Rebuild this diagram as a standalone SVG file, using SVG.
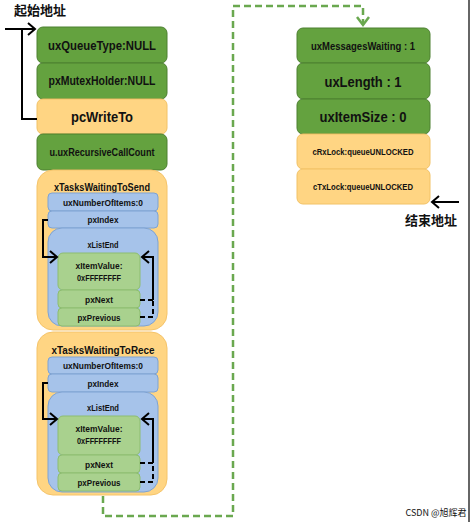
<svg xmlns="http://www.w3.org/2000/svg" width="474" height="522" viewBox="0 0 474 522">
<style>
.g{fill:#64a23f;stroke:#4c8030;stroke-width:1}
.o{fill:#ffd583;stroke:#f2c266;stroke-width:1}
.ob{fill:#ffd583;stroke:#f5c46a;stroke-width:1}
.b{fill:#a6c3ea;stroke:#7ea3d3;stroke-width:1}
.lg{fill:#a9d18e;stroke:#8dbd70;stroke-width:1}
text{font-family:"Liberation Sans",Arial,sans-serif;font-weight:bold;text-anchor:middle;fill:#111}
.cn{font-family:"Noto Sans CJK SC","Liberation Sans",sans-serif;font-weight:bold;text-anchor:start}
.ln{fill:none;stroke:#000;stroke-width:2}
.dl{fill:none;stroke:#000;stroke-width:2;stroke-dasharray:5,3}
.gd{fill:none;stroke:#6aa84f;stroke-width:2.5;stroke-dasharray:7,4}
</style>
<defs>
<marker id="ah" markerUnits="userSpaceOnUse" markerWidth="12" markerHeight="14" refX="9" refY="7" orient="auto">
<path d="M2,1 L9,7 L2,13" fill="none" stroke="#000" stroke-width="2"/>
</marker>
<marker id="gah" markerUnits="userSpaceOnUse" markerWidth="14" markerHeight="14" refX="10" refY="7" orient="auto">
<path d="M2,1 L10,7 L2,13" fill="none" stroke="#6aa84f" stroke-width="2.5"/>
</marker>
</defs>
<rect width="474" height="522" fill="#fff"/>
<line x1="469" y1="0" x2="469" y2="522" stroke="#333" stroke-width="1.5"/>

<text class="cn" x="14" y="15" font-size="13">起始地址</text>
<text class="cn" x="405" y="225" font-size="13">结束地址</text>

<g id="uxQueueType"><rect class="g" x="37" y="27" width="130" height="36" rx="6"/><text x="102" y="49.5" font-size="12.5" textLength="108" lengthAdjust="spacingAndGlyphs">uxQueueType:NULL</text></g>
<g id="pxMutexHolder"><rect class="g" x="37" y="63" width="130" height="36" rx="6"/><text x="102" y="85" font-size="12" textLength="107" lengthAdjust="spacingAndGlyphs">pxMutexHolder:NULL</text></g>
<g id="pcWriteTo"><rect class="o" x="37" y="99" width="130" height="35" rx="6"/><text x="102" y="121.5" font-size="14.5" textLength="62" lengthAdjust="spacingAndGlyphs">pcWriteTo</text></g>
<g id="uxRecursiveCallCount"><rect class="g" x="37" y="134" width="130" height="36" rx="6"/><text x="102" y="156" font-size="10.5" textLength="105" lengthAdjust="spacingAndGlyphs">u.uxRecursiveCallCount</text></g>

<g id="xTasksWaitingToSend">
<rect class="ob" x="37" y="170" width="130" height="160" rx="16"/>
<text x="102" y="191" font-size="11" textLength="96" lengthAdjust="spacingAndGlyphs">xTasksWaitingToSend</text>
<rect class="b" x="48" y="193" width="110" height="18" rx="4"/>
<text x="103" y="205.5" font-size="9.5" textLength="80" lengthAdjust="spacingAndGlyphs">uxNumberOfItems:0</text>
<rect class="b" x="48" y="211" width="110" height="17" rx="4"/>
<text x="103" y="223" font-size="9.5" textLength="31" lengthAdjust="spacingAndGlyphs">pxIndex</text>
<rect class="b" x="48" y="228" width="110" height="98" rx="14"/>
<text x="103" y="247.5" font-size="9.5" textLength="31" lengthAdjust="spacingAndGlyphs">xListEnd</text>
<rect class="lg" x="58" y="253" width="82" height="37" rx="5"/>
<text x="99" y="269" font-size="9.5" textLength="47" lengthAdjust="spacingAndGlyphs">xItemValue:</text>
<text x="99" y="281" font-size="9" textLength="44" lengthAdjust="spacingAndGlyphs">0xFFFFFFFF</text>
<rect class="lg" x="58" y="290" width="82" height="18" rx="4"/>
<text x="99" y="303" font-size="9.5" textLength="28" lengthAdjust="spacingAndGlyphs">pxNext</text>
<rect class="lg" x="58" y="308" width="82" height="18" rx="4"/>
<text x="99" y="320.5" font-size="9.5" textLength="43" lengthAdjust="spacingAndGlyphs">pxPrevious</text>
</g>

<g id="xTasksWaitingToRece">
<rect class="ob" x="37" y="332" width="130" height="163" rx="16"/>
<text x="103" y="354" font-size="11.5" textLength="103" lengthAdjust="spacingAndGlyphs">xTasksWaitingToRece</text>
<rect class="b" x="48" y="357" width="110" height="17" rx="4"/>
<text x="103" y="369" font-size="9.5" textLength="80" lengthAdjust="spacingAndGlyphs">uxNumberOfItems:0</text>
<rect class="b" x="48" y="374" width="110" height="18" rx="4"/>
<text x="103" y="386.5" font-size="9.5" textLength="31" lengthAdjust="spacingAndGlyphs">pxIndex</text>
<rect class="b" x="48" y="392" width="110" height="100" rx="14"/>
<text x="103" y="410.5" font-size="9.5" textLength="32" lengthAdjust="spacingAndGlyphs">xListEnd</text>
<rect class="lg" x="58" y="416" width="82" height="39" rx="5"/>
<text x="99" y="431.5" font-size="9.5" textLength="47" lengthAdjust="spacingAndGlyphs">xItemValue:</text>
<text x="99" y="443.5" font-size="9" textLength="44" lengthAdjust="spacingAndGlyphs">0xFFFFFFFF</text>
<rect class="lg" x="58" y="455" width="82" height="18" rx="4"/>
<text x="99" y="467.5" font-size="9.5" textLength="28" lengthAdjust="spacingAndGlyphs">pxNext</text>
<rect class="lg" x="58" y="473" width="82" height="18" rx="4"/>
<text x="99" y="485.5" font-size="9.5" textLength="43" lengthAdjust="spacingAndGlyphs">pxPrevious</text>
</g>

<g id="uxMessagesWaiting"><rect class="g" x="297" y="28" width="133" height="35" rx="6"/><text x="363" y="49.5" font-size="11" textLength="104" lengthAdjust="spacingAndGlyphs">uxMessagesWaiting : 1</text></g>
<g id="uxLength"><rect class="g" x="297" y="63" width="133" height="36" rx="6"/><text x="363" y="86.5" font-size="15" textLength="77" lengthAdjust="spacingAndGlyphs">uxLength : 1</text></g>
<g id="uxItemSize"><rect class="g" x="297" y="99" width="133" height="35" rx="6"/><text x="363" y="121.5" font-size="15" textLength="87" lengthAdjust="spacingAndGlyphs">uxItemSize : 0</text></g>
<g id="cRxLock"><rect class="o" x="297" y="134" width="133" height="35" rx="6"/><text x="363" y="155" font-size="9" textLength="101" lengthAdjust="spacingAndGlyphs">cRxLock:queueUNLOCKED</text></g>
<g id="cTxLock"><rect class="o" x="297" y="169" width="133" height="35" rx="6"/><text x="363" y="190" font-size="9" textLength="100" lengthAdjust="spacingAndGlyphs">cTxLock:queueUNLOCKED</text></g>

<g id="connectors">
<line class="ln" x1="5" y1="29" x2="35" y2="29" marker-end="url(#ah)"/>
<polyline class="ln" points="22,29 22,119 37,119"/>
<line class="ln" x1="459" y1="202" x2="432" y2="202" marker-end="url(#ah)"/>
<polyline class="ln" points="48,220 43,220 43,257 57,257" marker-end="url(#ah)"/>
<polyline class="ln" points="153,300 153,257 142,257" marker-end="url(#ah)"/>
<line class="dl" x1="140" y1="300" x2="153" y2="300"/>
<polyline class="dl" points="140,317 153,317 153,300"/>
<polyline class="ln" points="48,383 43,383 43,419 57,419" marker-end="url(#ah)"/>
<polyline class="ln" points="153,463 153,419 142,419" marker-end="url(#ah)"/>
<line class="dl" x1="140" y1="463" x2="153" y2="463"/>
<polyline class="dl" points="140,482 153,482 153,463"/>
<path class="gd" d="M103,496 V516 H233 V6 H363 V25" marker-end="url(#gah)"/>
</g>
<text x="436" y="516" font-size="9" font-weight="normal" style="font-family:'Noto Sans CJK SC',sans-serif;font-weight:normal" fill="#aaa">CSDN @旭辉君</text>
</svg>
